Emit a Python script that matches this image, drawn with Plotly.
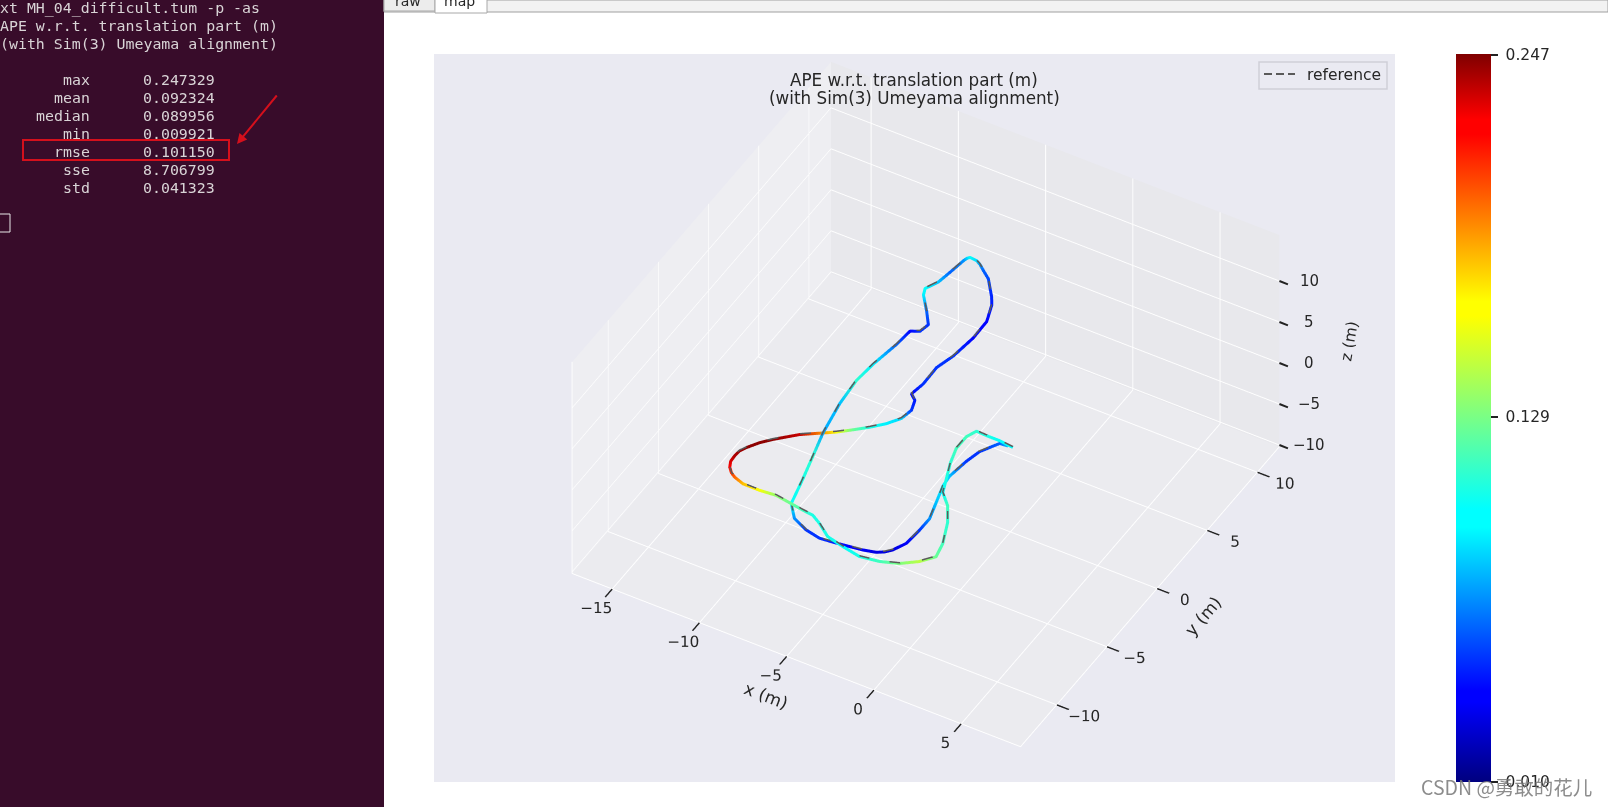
"""APE trajectory plot next to the terminal output of evo_ape."""

import math

import plotly.graph_objects as go

W, H = 1608, 807

# estimated trajectory (m)
traj_x = [0.38, -0.44, -1.11, -1.64, -1.87, -1.87, -1.58, -1.15, -0.96, -0.26, 0.35, 0.93, 1.13, 0.59, -0.20, -1.13, -2.18, -3.26, -4.27, -5.12, -5.71, -6.32, -7.07, -8.02, -8.92, -9.88, -10.48, -10.78, -11.06, -11.24, -11.27, -11.24, -11.07, -10.68, -10.23, -9.26, -8.32, -7.78, -7.15, -6.53, -5.94, -5.49, -5.36, -5.58, -5.97, -5.68, -5.56, -5.27, -4.93, -4.96, -5.20, -5.51, -5.88, -6.32, -6.84, -7.20, -7.49, -7.90, -8.00, -8.06, -8.21, -8.35, -8.68, -8.51, -7.91, -7.35, -7.47, -7.90, -8.14, -8.41, -8.68, -8.54, -8.17, -7.90, -7.48, -7.22, -6.53, -5.60, -4.72, -3.92, -3.13, -2.43, -1.77, -1.42, -1.14, -0.80, -0.72, -0.71, -1.35, -1.43, -1.26, -1.05, -0.49, -0.03]
traj_y = [-0.41, -0.31, -0.31, -0.54, -1.15, -2.14, -3.24, -4.40, -5.07, -5.80, -6.86, -8.36, -9.38, -10.10, -10.73, -11.09, -11.27, -11.04, -10.78, -10.13, -9.77, -9.69, -9.56, -9.40, -9.49, -9.48, -9.26, -9.06, -8.74, -8.34, -7.88, -7.44, -7.06, -6.41, -5.87, -4.89, -4.21, -3.82, -3.26, -2.68, -2.03, -1.32, -0.54, 0.18, 0.52, 1.18, 2.31, 3.47, 4.86, 6.26, 7.18, 7.71, 8.20, 8.79, 9.20, 9.50, 9.67, 9.72, 9.58, 9.35, 8.27, 7.35, 6.59, 6.13, 5.41, 4.60, 3.97, 3.73, 2.81, 0.96, -0.25, -2.15, -4.47, -5.94, -7.68, -9.29, -10.17, -10.62, -10.82, -10.73, -10.61, -10.50, -10.32, -10.09, -9.76, -9.00, -7.82, -6.83, -4.38, -3.58, -2.21, -1.25, -0.22, -0.18]
traj_z = [
    1, 1, 1, 1.5, 1.5, 1.5, 1.5, 1.5,
    1, 1, 1, 1, 1, 1, 1, 1, 1, 1, 1, 1, 1, 1, 1, 1, 1, 1, 1, 1, 1, 1, 1, 1, 1, 1, 1, 1, 1, 1, 1, 1, 1, 1, 1, 1, 1,
    1.5, 2, 2, 2.5, 2.5,
    3, 3, 3, 3, 3, 3, 3, 3, 3, 3, 3, 3, 3, 3,
    2.5, 2.5, 2.5, 2.5, 2, 2, 1.5, 1.5, 1.5, 1, 1,
    0.5, 0.5, 0.5, 0.5, 0.5, 0.5, 0.5, 0.5, 0.5, 0.5, 0.5, 0.5, 0.5, 0.5, 0.5, 0.5, 0.5, 0.5, 0.5,
]
# reference height, read a touch above the estimate so the dashes stay visible
ref_z = [
    1.1, 1.1, 1.1, 1.6, 1.6, 1.6, 1.6, 1.6,
    1.1, 1.1, 1.1, 1.1, 1.1, 1.1, 1.1, 1.1, 1.1, 1.1, 1.1, 1.1, 1.1, 1.1, 1.1, 1.1, 1.1, 1.1, 1.1, 1.1, 1.1, 1.1, 1.1, 1.1, 1.1, 1.1, 1.1, 1.1, 1.1, 1.1, 1.1, 1.1, 1.1, 1.1, 1.1, 1.1, 1.1,
    1.6, 2.1, 2.1, 2.6, 2.6,
    3.1, 3.1, 3.1, 3.1, 3.1, 3.1, 3.1, 3.1, 3.1, 3.1, 3.1, 3.1, 3.1, 3.1,
    2.6, 2.6, 2.6, 2.6, 2.1, 2.1, 1.6, 1.6, 1.6, 1.1, 1.1,
    0.6, 0.6, 0.6, 0.6, 0.6, 0.6, 0.6, 0.6, 0.6, 0.6, 0.6, 0.6, 0.6, 0.6, 0.6, 0.6, 0.6, 0.6, 0.6,
]
ape = [0.10, 0.10, 0.105, 0.11, 0.115, 0.115, 0.11, 0.105, 0.10, 0.115, 0.11, 0.115, 0.125, 0.145, 0.13, 0.115, 0.105, 0.10, 0.105, 0.105, 0.105, 0.115, 0.125, 0.135, 0.16, 0.18, 0.20, 0.21, 0.225, 0.232, 0.24, 0.242, 0.245, 0.245, 0.245, 0.235, 0.19, 0.16, 0.125, 0.105, 0.09, 0.085, 0.05, 0.045, 0.04, 0.05, 0.05, 0.05, 0.04, 0.04, 0.045, 0.047, 0.05, 0.055, 0.06, 0.072, 0.085, 0.10, 0.085, 0.07, 0.06, 0.08, 0.10, 0.09, 0.06, 0.05, 0.05, 0.04, 0.06, 0.09, 0.11, 0.08, 0.075, 0.11, 0.105, 0.10, 0.07, 0.05, 0.05, 0.045, 0.04, 0.035, 0.03, 0.03, 0.03, 0.035, 0.05, 0.07, 0.09, 0.08, 0.05, 0.05, 0.06, 0.08]

x_ticks = [-15, -10, -5, 0, 5]
y_ticks = [-10, -5, 0, 5, 10]
z_ticks = [-10, -5, 0, 5, 10]
x_range = [-17.3, 8.4]
y_range = [-13.6, 12.2]
z_range = [-10.2, 15.6]

cbar_ticks = [0.010, 0.129, 0.247]
cbar_labels = ["\u00a00.010", "\u00a00.129", "\u00a00.247"]

term_head = ["xt MH_04_difficult.tum -p -as", "APE w.r.t. translation part (m)", "(with Sim(3) Umeyama alignment)"]
stat_names = ["max", "mean", "median", "min", "rmse", "sse", "std"]
stat_values = ["0.247329", "0.092324", "0.089956", "0.009921", "0.101150", "8.706799", "0.041323"]

# matplotlib's jet
jet = [
    [0.0, "rgb(0,0,127)"], [0.11, "rgb(0,0,255)"], [0.125, "rgb(0,0,255)"],
    [0.35, "rgb(0,255,255)"], [0.375, "rgb(0,255,255)"], [0.64, "rgb(255,255,0)"],
    [0.66, "rgb(255,255,0)"], [0.89, "rgb(255,0,0)"], [0.91, "rgb(255,0,0)"],
    [1.0, "rgb(127,0,0)"],
]

TEXT = "#262626"
TERM_BG = "#380c2a"
TERM_FG = "#d9d4d6"
PANE_BG = "#eaeaf2"
SANS = "DejaVu Sans"
MONO = "DejaVu Sans Mono"


def px(x):
    return x / W


def py(y):
    return 1 - y / H


def rect(x0, y0, x1, y1, **kwargs):
    return dict(type="rect", xref="paper", yref="paper", x0=px(x0), x1=px(x1),
                y0=py(y0), y1=py(y1), **kwargs)


def label(x, y, text, anchor="left", size=15, color=TEXT, family=SANS):
    return dict(xref="paper", yref="paper", x=px(x), y=py(y), text=text, showarrow=False,
                xanchor=anchor, yanchor="middle", font=dict(family=family, size=size, color=color))


def axis(title, ticks, rng, pane):
    return dict(
        title=dict(text=title, font=dict(family=SANS, size=17, color=TEXT)),
        range=rng, tickmode="array", tickvals=ticks, ticks="outside", ticklen=14, tickangle=0,
        tickwidth=3, tickcolor="#222222", tickfont=dict(family=SANS, size=13.5, color=TEXT),
        showgrid=True, gridcolor="white", gridwidth=2, showline=True, linecolor="white",
        linewidth=2, zeroline=False, showbackground=True, backgroundcolor=pane, showspikes=False,
    )


fig = go.Figure()

fig.add_trace(go.Scatter3d(
    x=traj_x, y=traj_y, z=traj_z, mode="lines", showlegend=False,
    line=dict(
        color=ape, colorscale=jet, cmin=0.0099, cmax=0.2473, width=6,
        colorbar=dict(
            x=px(1456), xanchor="left", y=py(54), yanchor="top", len=728 / H, thickness=35,
            xpad=0, ypad=0, outlinewidth=0, tickmode="array", tickvals=cbar_ticks,
            ticktext=cbar_labels, ticks="outside", ticklen=7, tickcolor="#222222", tickwidth=2,
            tickfont=dict(family=SANS, size=15.5, color=TEXT),
        ),
    ),
))
fig.add_trace(go.Scatter3d(
    x=traj_x, y=traj_y, z=ref_z, mode="lines", name="reference", showlegend=False,
    line=dict(color="#5a5a5a", width=3, dash="dash"),
))

shapes = [
    rect(0, 0, 384, H, fillcolor=TERM_BG, line_width=0, layer="below"),
    rect(384, 0, W, 12, fillcolor="#f2f2f2", line=dict(color="#a0a0a0", width=1), layer="below"),
    rect(384, -2, 435, 11, fillcolor="#ececec", line=dict(color="#a8a8a8", width=1), layer="below"),
    rect(435, -2, 487, 13, fillcolor="white", line=dict(color="#a8a8a8", width=1), layer="below"),
    rect(23, 140, 229, 160, line=dict(color="#d4101c", width=2)),
    rect(-1, 214, 10, 232, line=dict(color="#e8e8e8", width=1)),
    # legend box
    rect(1259, 62, 1387, 89, fillcolor=PANE_BG, line=dict(color="#cfcfd8", width=1.5), layer="above"),
    dict(type="line", xref="paper", yref="paper", x0=px(1264), x1=px(1295), y0=py(74), y1=py(74),
         line=dict(color="#5a5a5a", width=2, dash="8px,4px"), layer="above"),
]

annotations = [
    label(914, 80, "APE w.r.t. translation part (m)", "center", 16.8),
    label(914, 98, "(with Sim(3) Umeyama alignment)", "center", 16.8),
    label(408, 1, "raw", "center", 14),
    label(460, 1, "map", "center", 14),
    label(1305, 75, "reference", "left", 15.5),
    label(1594, 786, "CSDN @勇敢的花儿", "right", 19.5, "rgba(120,120,120,0.85)", "Noto Sans CJK SC"),
    dict(xref="paper", yref="paper", axref="pixel", ayref="pixel", x=px(237), y=py(144), ax=41, ay=-50,
         showarrow=True, arrowcolor="#d4101c", arrowwidth=2, arrowhead=2, text=""),
]
for i, line in enumerate(term_head):
    annotations.append(label(-2, 8 + 18 * i, line, size=14.9, color=TERM_FG, family=MONO))
for i, (name, value) in enumerate(zip(stat_names, stat_values)):
    y = 80 + 18 * i
    annotations.append(label(92, y, name, "right", 14.9, TERM_FG, MONO))
    annotations.append(label(217, y, value, "right", 14.9, TERM_FG, MONO))

# plotly puts z ticks on the left edge here; the original has them on the right
z_notes = []
for tick in z_ticks:
    text = f"\u2212{-tick}" if tick < 0 else str(tick)
    z_notes.append(dict(x=x_range[1], y=y_range[1], z=tick, text="", showarrow=True, arrowhead=0,
                        arrowwidth=2, arrowcolor="#222222", ax=10, ay=4))
    z_notes.append(dict(x=x_range[1], y=y_range[1], z=tick, text=text, showarrow=False, xshift=30,
                        yshift=0, font=dict(family=SANS, size=15, color=TEXT)))
z_notes.append(dict(x=x_range[1], y=y_range[1], z=2.7, text="z (m)", showarrow=False, xshift=70,
                    textangle=-80, font=dict(family=SANS, size=15.5, color=TEXT)))

# camera from azimuth/elevation, plus a small shift to move the box inside the pane
az, el, dist = math.radians(-60), math.radians(42), 3.0
shift = dict(x=-0.0142, y=-0.0373, z=-0.0280)
eye = dict(
    x=dist * math.cos(el) * math.cos(az) + shift["x"],
    y=dist * math.cos(el) * math.sin(az) + shift["y"],
    z=dist * math.sin(el) + shift["z"],
)

z_axis = axis("", z_ticks, z_range, "#ebebef")
z_axis.update(showticklabels=False, ticks="")

fig.update_layout(
    width=W, height=H, autosize=False, margin=dict(l=0, r=0, t=0, b=0),
    paper_bgcolor="white", plot_bgcolor="white", shapes=shapes, annotations=annotations,
    scene=dict(
        domain=dict(x=[px(434), px(1395)], y=[py(782), py(54)]),
        bgcolor=PANE_BG,
        aspectmode="manual", aspectratio=dict(x=1.4225, y=1.4225, z=0.782),
        camera=dict(eye=eye, center=shift, up=dict(x=0, y=0, z=1),
                    projection=dict(type="orthographic")),
        xaxis=axis("x (m)", x_ticks, x_range, "#eeeef2"),
        yaxis=axis("y (m)", y_ticks, y_range, "#e8e8ec"),
        zaxis=z_axis,
        annotations=z_notes,
    ),
)

fig.write_html("out.html", config={"displayModeBar": False},
               post_script="document.body.style.margin='0';")
